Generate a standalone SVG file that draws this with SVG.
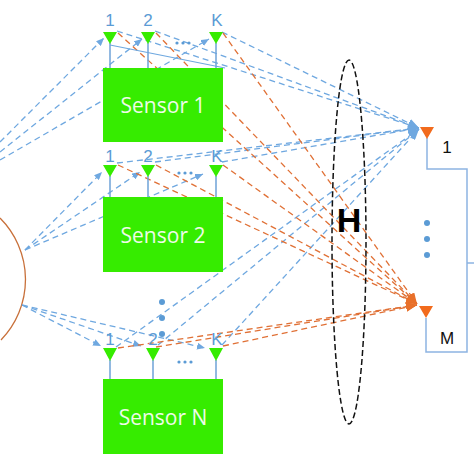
<svg xmlns="http://www.w3.org/2000/svg" width="474" height="474" viewBox="0 0 474 474">
<style>
.box{fill:#36ec00}
.stxt{font-family:"Open Sans","Liberation Sans",Arial,sans-serif;font-size:21px;fill:#eefbe8;text-anchor:middle}
.alab{font-family:"Liberation Sans",Arial,sans-serif;font-size:17px;fill:#5b9bd5;text-anchor:middle}
.rlab{font-family:"Liberation Sans",Arial,sans-serif;font-size:17px;fill:#111;text-anchor:middle}
.tri{fill:#36ec00}
.stem{stroke:#6fa3d8;stroke-width:1.5;fill:none}
.bi{stroke:#6fa8e0;stroke-width:1.3;stroke-dasharray:6 4;fill:none;marker-end:url(#ab)}
.br{stroke:#6fa8e0;stroke-width:1.3;stroke-dasharray:6 4;fill:none;marker-end:url(#abr)}
.o{stroke:#e07035;stroke-width:1.3;stroke-dasharray:6 4;fill:none;marker-end:url(#ao)}
.dot{fill:#5b9bd5}
.sd{fill:#5b9bd5}
</style>
<defs>
<marker id="ab" markerUnits="userSpaceOnUse" markerWidth="8" markerHeight="7" refX="8" refY="3.5" orient="auto"><path d="M0,0 L8,3.5 L0,7 z" fill="#6fa8e0"/></marker>
<marker id="abr" markerUnits="userSpaceOnUse" markerWidth="11" markerHeight="9" refX="11" refY="4.5" orient="auto"><path d="M0,0 L11,4.5 L0,9 z" fill="#6fa8e0"/></marker>
<marker id="ao" markerUnits="userSpaceOnUse" markerWidth="11" markerHeight="9" refX="11" refY="4.5" orient="auto"><path d="M0,0 L11,4.5 L0,9 z" fill="#e8702a"/></marker>
</defs>
<rect width="474" height="474" fill="#fff"/>

<g id="source">
<path d="M0,218 A87,87 0 0 1 1,340" fill="none" stroke="#c8703a" stroke-width="1.3"/>
</g>

<g id="connectors">
<line class="bi" x1="0" y1="142" x2="104" y2="38"/>
<line class="bi" x1="0" y1="152" x2="142" y2="39"/>
<line class="bi" x1="0" y1="160" x2="209" y2="39"/>
<line class="bi" x1="25" y1="250" x2="102" y2="172"/>
<line class="bi" x1="25" y1="250" x2="140" y2="172"/>
<line class="bi" x1="25" y1="250" x2="203" y2="174"/>
<line class="bi" x1="22" y1="305" x2="101" y2="346"/>
<line class="bi" x1="22" y1="305" x2="141" y2="346"/>
<line class="bi" x1="22" y1="305" x2="205" y2="348"/>
<line class="br" x1="117" y1="31" x2="419" y2="128"/>
<line class="br" x1="155" y1="31" x2="419" y2="128"/>
<line class="br" x1="222" y1="32" x2="419" y2="128"/>
<line class="br" x1="117" y1="163" x2="419" y2="128"/>
<line class="br" x1="155" y1="162" x2="419" y2="128"/>
<line class="br" x1="222" y1="162" x2="419" y2="128"/>
<line class="br" x1="116" y1="347" x2="419" y2="129"/>
<line class="br" x1="158" y1="345" x2="419" y2="129"/>
<line class="br" x1="222" y1="345" x2="419" y2="129"/>
<line class="o" x1="118" y1="33" x2="417" y2="304"/>
<line class="o" x1="156" y1="33" x2="417" y2="304"/>
<line class="o" x1="223" y1="33" x2="417" y2="304"/>
<line class="o" x1="118" y1="165" x2="417" y2="304"/>
<line class="o" x1="156" y1="165" x2="417" y2="304"/>
<line class="o" x1="223" y1="165" x2="417" y2="304"/>
<line class="o" x1="118" y1="348" x2="417" y2="305"/>
<line class="o" x1="156" y1="347" x2="417" y2="305"/>
<line class="o" x1="223" y1="346" x2="417" y2="305"/>
<line x1="110" y1="45" x2="225" y2="68" stroke="#6fa8e0" stroke-width="1.2"/>
</g>

<g id="sensor1">
<text class="alab" x="110" y="26">1</text>
<text class="alab" x="148" y="26">2</text>
<text class="alab" x="217" y="26">K</text>
<path class="stem" d="M110,43 V68 M148,43 V68 M216,43 V68"/>
<path class="tri" d="M103,32 H117 L110,44 z M141,32 H155 L148,44 z M209,32 H223 L216,44 z"/>
<circle class="sd" cx="177" cy="43" r="1.6"/><circle class="sd" cx="183" cy="43" r="1.6"/><circle class="sd" cx="189" cy="43" r="1.6"/>
<rect class="box" x="103" y="68" width="120" height="74"/>
<text class="stxt" x="163" y="113">Sensor 1</text>
</g>

<g id="sensor2">
<text class="alab" x="110" y="162">1</text>
<text class="alab" x="148" y="162">2</text>
<text class="alab" x="217" y="162">K</text>
<path class="stem" d="M110,176 V197 M148,176 V197 M216,176 V197"/>
<path class="tri" d="M103,165 H117 L110,177 z M141,165 H155 L148,177 z M209,165 H223 L216,177 z"/>
<circle class="sd" cx="179" cy="173" r="1.6"/><circle class="sd" cx="185" cy="173" r="1.6"/><circle class="sd" cx="191" cy="173" r="1.6"/>
<rect class="box" x="103" y="197" width="120" height="75"/>
<text class="stxt" x="163" y="243">Sensor 2</text>
</g>

<g id="sensor-dots">
<circle class="dot" cx="162" cy="302" r="3"/>
<circle class="dot" cx="162" cy="318" r="3"/>
<circle class="dot" cx="162" cy="334" r="3"/>
</g>

<g id="sensorN">
<text class="alab" x="110" y="345">1</text>
<text class="alab" x="153" y="345">2</text>
<text class="alab" x="217" y="345">K</text>
<path class="stem" d="M110,360 V379 M153,360 V379 M216,360 V379"/>
<path class="tri" d="M103,348 H117 L110,361 z M146,348 H160 L153,361 z M209,348 H223 L216,361 z"/>
<circle class="sd" cx="179" cy="362" r="1.6"/><circle class="sd" cx="185" cy="362" r="1.6"/><circle class="sd" cx="191" cy="362" r="1.6"/>
<rect class="box" x="103" y="379" width="120" height="75"/>
<text class="stxt" x="163" y="425">Sensor N</text>
</g>

<g id="channel">
<ellipse cx="349" cy="242" rx="17" ry="182" fill="none" stroke="#111" stroke-width="1.5" stroke-dasharray="6 3"/>
<text x="349" y="232" font-family="Liberation Sans,Arial,sans-serif" font-weight="bold" font-size="34" text-anchor="middle" fill="#000">H</text>
</g>

<g id="receiver">
<path d="M427,138 V169 H467 V352 H426 V318 M467,263 H474" fill="none" stroke="#8db4e2" stroke-width="1.5"/>
<path d="M420,127 H434 L427,139 z M419,306 H433 L426,318 z" fill="#f26b1d"/>
<text class="rlab" x="447" y="153">1</text>
<text class="rlab" x="447" y="344">M</text>
<circle class="dot" cx="427" cy="223" r="3"/>
<circle class="dot" cx="427" cy="239" r="3"/>
<circle class="dot" cx="427" cy="255" r="3"/>
</g>
</svg>
